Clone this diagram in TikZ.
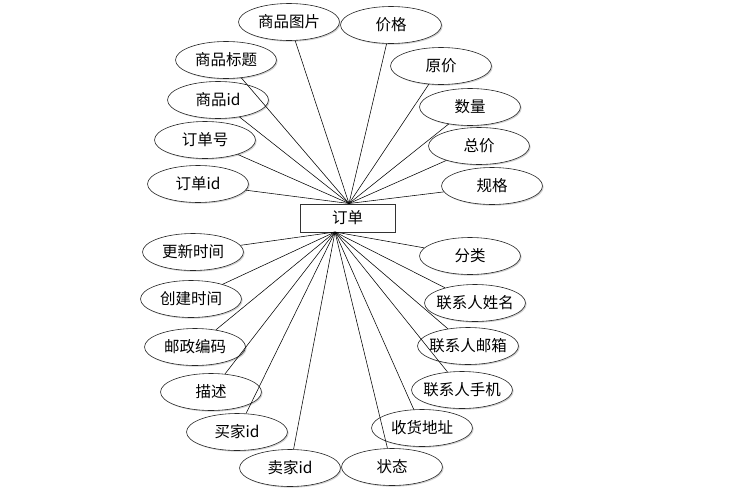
\documentclass[tikz,border=0pt]{standalone}
\usepackage{fontspec}
\setmainfont{Noto Sans CJK SC}
\usetikzlibrary{shapes.geometric,shadows}
\tikzset{
  attr/.style={ellipse, draw=black!85, line width=0.6pt, fill=white,
    minimum width=101pt, minimum height=37pt, inner sep=0pt,
    font=\fontsize{15.5}{18}\selectfont,
    drop shadow={shadow xshift=1.2pt, shadow yshift=-1.2pt, fill=black!30, opacity=0.6}},
  entity/.style={rectangle, draw=black!80, line width=0.6pt, fill=white,
    minimum width=95pt, minimum height=28pt, inner sep=0pt,
    font=\fontsize{15.5}{18}\selectfont,
    drop shadow={shadow xshift=1.2pt, shadow yshift=-1.2pt, fill=black!30, opacity=0.6}},
  link/.style={draw=black, line width=0.55pt}
}
\newcommand{\attrnode}[3]{\node[attr] (#1) at (#2) {\makebox[0pt]{#3}};}
\begin{document}
\begin{tikzpicture}[x=1pt,y=-1pt]
\useasboundingbox (0,0) rectangle (745,496);
\node[entity] (order) at (347.5,218) {订单};
\coordinate (tp) at (349,203.5);
\coordinate (bp) at (335,232);
% top group
\attrnode{a1}{289,22}{商品图片}
\attrnode{a2}{391,25}{价格}
\attrnode{a3}{226,60}{商品标题}
\attrnode{a4}{441,66}{原价}
\attrnode{a5}{218,100}{商品id}
\attrnode{a6}{470,107}{数量}
\attrnode{a7}{205,140}{订单号}
\attrnode{a8}{479,146}{总价}
\attrnode{a9}{198,184}{订单id}
\attrnode{a10}{492,186}{规格}
% bottom group
\attrnode{b1}{193,252}{更新时间}
\attrnode{b2}{470,256}{分类}
\attrnode{b3}{191,299}{创建时间}
\attrnode{b4}{475,303}{联系人姓名}
\attrnode{b5}{195,347}{邮政编码}
\attrnode{b6}{468,346}{联系人邮箱}
\attrnode{b7}{211,392}{描述}
\attrnode{b8}{462,390}{联系人手机}
\attrnode{b9}{237,432}{买家id}
\attrnode{b10}{422,428}{收货地址}
\attrnode{b11}{290,468}{卖家id}
\attrnode{b12}{392,467}{状态}
\foreach \n in {a1,a2,a3,a4,a5,a6,a7,a8,a9,a10}{\draw[link] (\n) -- (tp);}
\foreach \n in {b1,b2,b3,b4,b5,b6,b7,b8,b9,b10,b11,b12}{\draw[link] (\n) -- (bp);}
\end{tikzpicture}
\end{document}
